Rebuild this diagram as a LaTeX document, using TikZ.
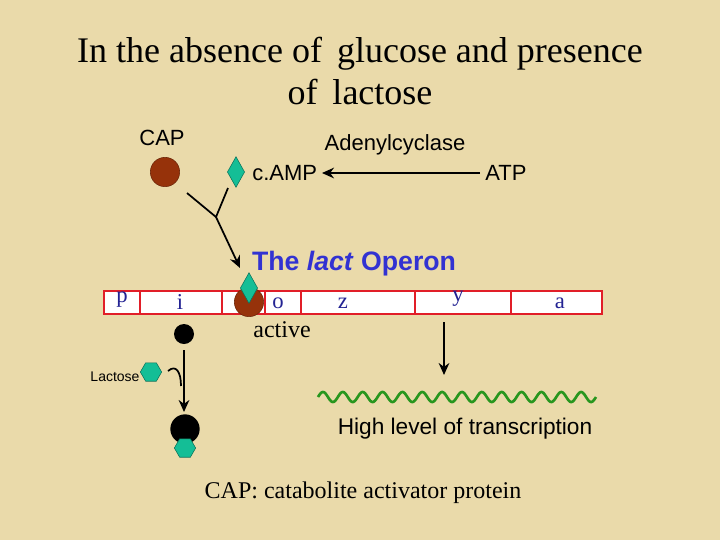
\documentclass[tikz,border=0pt]{standalone}
\usepackage{fontspec}
\setmainfont{Liberation Serif}
\newfontfamily\arial{Liberation Sans}
\usetikzlibrary{shapes.geometric,arrows.meta}
\definecolor{bg}{RGB}{234,218,170}
\definecolor{capb}{RGB}{150,50,10}
\definecolor{teal}{RGB}{20,190,150}
\definecolor{opblue}{RGB}{50,50,210}
\definecolor{barred}{RGB}{225,30,40}
\definecolor{wavegreen}{RGB}{40,150,30}
\tikzset{
 lbl/.style={font=\arial\fontsize{16.5}{18}\selectfont, inner sep=0pt},
 gene/.style={font=\fontsize{17}{19}\selectfont, text=opblue!70!black, inner sep=0pt},
 dia/.style={diamond, fill=teal, draw=teal!60!black, line width=0.4pt, minimum width=13pt, minimum height=23pt, inner sep=0pt},
 hexa/.style={regular polygon, regular polygon sides=6, fill=teal, draw=teal!60!black, minimum size=16pt, inner sep=0pt},
 capc/.style={circle, fill=capb, draw=capb!70!black, minimum size=22pt, inner sep=0pt},
 dot/.style={circle, fill=black, inner sep=0pt},
 arr/.style={-{Stealth[length=9pt,width=8pt]}, line width=1.3pt},
 ln/.style={line width=1.3pt}
}
\begin{document}
\begin{tikzpicture}[x=0.75pt,y=-0.75pt]
\fill[bg] (0,0) rectangle (720,540);
\useasboundingbox (0,0) rectangle (720,540);
\node[font=\fontsize{27}{32}\selectfont, align=center] (title) at (360,71) {In the absence of\, glucose and presence\\of\, lactose};
% operon bar
\draw[barred, fill=white, line width=1.5pt] (104,291) rectangle (602,314);
\foreach \x in {140,222,265,301,415,511} \draw[barred, line width=1.5pt] (\x,291) -- (\x,314);
\node[gene] (p) at (122,300) {p};
\node[gene] (i) at (180,302) {i};
\node[gene] (o) at (278,303) {o};
\node[gene] (z) at (343,303) {z};
\node[gene] (y) at (458,299) {y};
\node[gene] (a) at (560,303) {a};
% top
\node[lbl] (caplbl) at (162,138) {CAP};
\node[capc] (cap) at (165,172) {};
\node[dia] (camp) at (236,172) {};
\node[lbl, anchor=west] (camplbl) at (252,173) {c.AMP};
\node[lbl] (atp) at (506,173) {ATP};
\node[lbl] (adc) at (395,145) {Adenylcyclase};
\draw[arr] (atp.west) ++(-5,0) coordinate (atpw) -- (camplbl.east -| 322,0);
\coordinate (yj) at (216,217);
\coordinate (capend) at (187,193);
\coordinate (campend) at (228,188);
\draw[ln] (capend) -- (yj) -- (campend);
\coordinate (yarr) at (240,268);
\draw[arr] (yj) -- (yarr);
\node[font=\arial\bfseries\fontsize{20}{22}\selectfont, text=opblue] (lact) at (354,264) {The \textit{lact} Operon};
\node[capc] (acap) at (249,302) {};
\node[dia] (acamp) at (249,288) {};
\node[font=\fontsize{18}{20}\selectfont] (active) at (282,330) {active};
% lactose
\node[dot, minimum size=15pt] (rep) at (184,334) {};
\coordinate (repend) at (184,412);
\draw[arr] (rep.south) ++(0,6) -- (repend);
\node[font=\arial\fontsize{10.5}{12}\selectfont, inner sep=0pt] (lac) at (115,377) {Lactose};
\node[hexa] (lachex) at (151,372) {};
\draw[ln] (168,371) .. controls (176,364) and (181,372) .. (181,386);
\node[dot, minimum size=22pt] (rep2) at (185,429) {};
\node[hexa] (lachex2) at (185,448) {};
% transcription
\coordinate (tr1) at (444,322);
\coordinate (tr2) at (444,375);
\draw[arr] (tr1) -- (tr2);
\draw[wavegreen, line width=2pt, domain=0:278, samples=300, smooth] plot ({318+\x}, {397-5*sin(\x*14/278*360)});
\node[lbl, font=\arial\fontsize{17}{19}\selectfont] (high) at (465,429) {High level of transcription};
\node[font=\fontsize{18}{20}\selectfont] (foot) at (363,493) {CAP: catabolite activator protein};
\end{tikzpicture}
\end{document}
